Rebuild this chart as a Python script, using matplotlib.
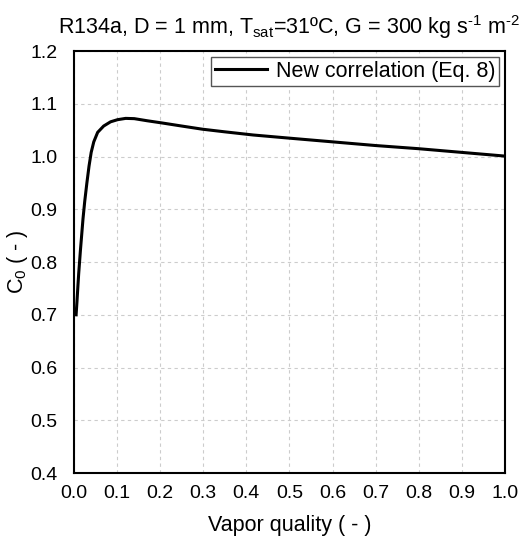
import numpy as np
import matplotlib
matplotlib.use("Agg")
import matplotlib.pyplot as plt

plt.rcParams["font.family"] = ["Liberation Sans", "DejaVu Sans"]
plt.rcParams["mathtext.fontset"] = "custom"
plt.rcParams["mathtext.rm"] = "Liberation Sans"
plt.rcParams["mathtext.it"] = "Liberation Sans:italic"

#Vapor quality values
quality = [0.005, 0.007, 0.009, 0.011, 0.013, 0.015, 0.018, 0.021, 0.025,
           0.030, 0.035, 0.040, 0.046, 0.055, 0.069, 0.085, 0.101, 0.120,
           0.140, 0.170, 0.203, 0.250, 0.298, 0.350, 0.416, 0.500, 0.600,
           0.700, 0.800, 0.900, 1.000]

#C0 values
c0 = [0.700, 0.725, 0.752, 0.778, 0.800, 0.822, 0.852, 0.882, 0.915,
      0.950, 0.982, 1.008, 1.028, 1.046, 1.058, 1.066, 1.070, 1.0725,
      1.072, 1.068, 1.064, 1.058, 1.052, 1.047, 1.041, 1.035, 1.028,
      1.021, 1.015, 1.008, 1.001]

x_ticks = np.arange(0, 1.01, 0.1)
y_ticks = np.arange(0.4, 1.21, 0.1)

fig = plt.figure(figsize=(5.32, 5.5), dpi=100)
ax = fig.add_axes([0.139, 0.14, 0.81, 0.767])

ax.plot(quality, c0, color="black", linewidth=2.2, label="New correlation (Eq. 8)")

ax.set_xlim(0, 1)
ax.set_ylim(0.4, 1.2)
ax.set_xticks(x_ticks)
ax.set_yticks(y_ticks)
ax.set_xticklabels([f"{v:.1f}" for v in x_ticks])
ax.set_yticklabels([f"{v:.1f}" for v in y_ticks])
ax.tick_params(length=0, labelsize=14)
ax.tick_params(axis="y", pad=12)
ax.tick_params(axis="x", pad=9)

ax.grid(True, color="#cccccc", linestyle=(0, (3, 3)), linewidth=0.8)
for spine in ax.spines.values():
    spine.set_linewidth(1.5)
    spine.set_color("black")

ax.set_xlabel("Vapor quality ( - )", fontsize=15.5, labelpad=9)
ax.set_ylabel(r"C$_0$ ( - )", fontsize=15.5, labelpad=0)
ax.set_title(r"R134a, D = 1 mm, T$_{\rm sat}$=31ºC, G = 300 kg s$^{\text{-1}}$ m$^{\text{-2}}$",
             fontsize=15.5, pad=12)

legend = ax.legend(loc="upper right", fontsize=15.5, fancybox=False,
                   framealpha=1, edgecolor="#555555", handlelength=2.4,
                   borderaxespad=0.25, borderpad=0.2, handletextpad=0.4)
legend.get_frame().set_linewidth(1.0)

fig.savefig("out.png", dpi=100)
